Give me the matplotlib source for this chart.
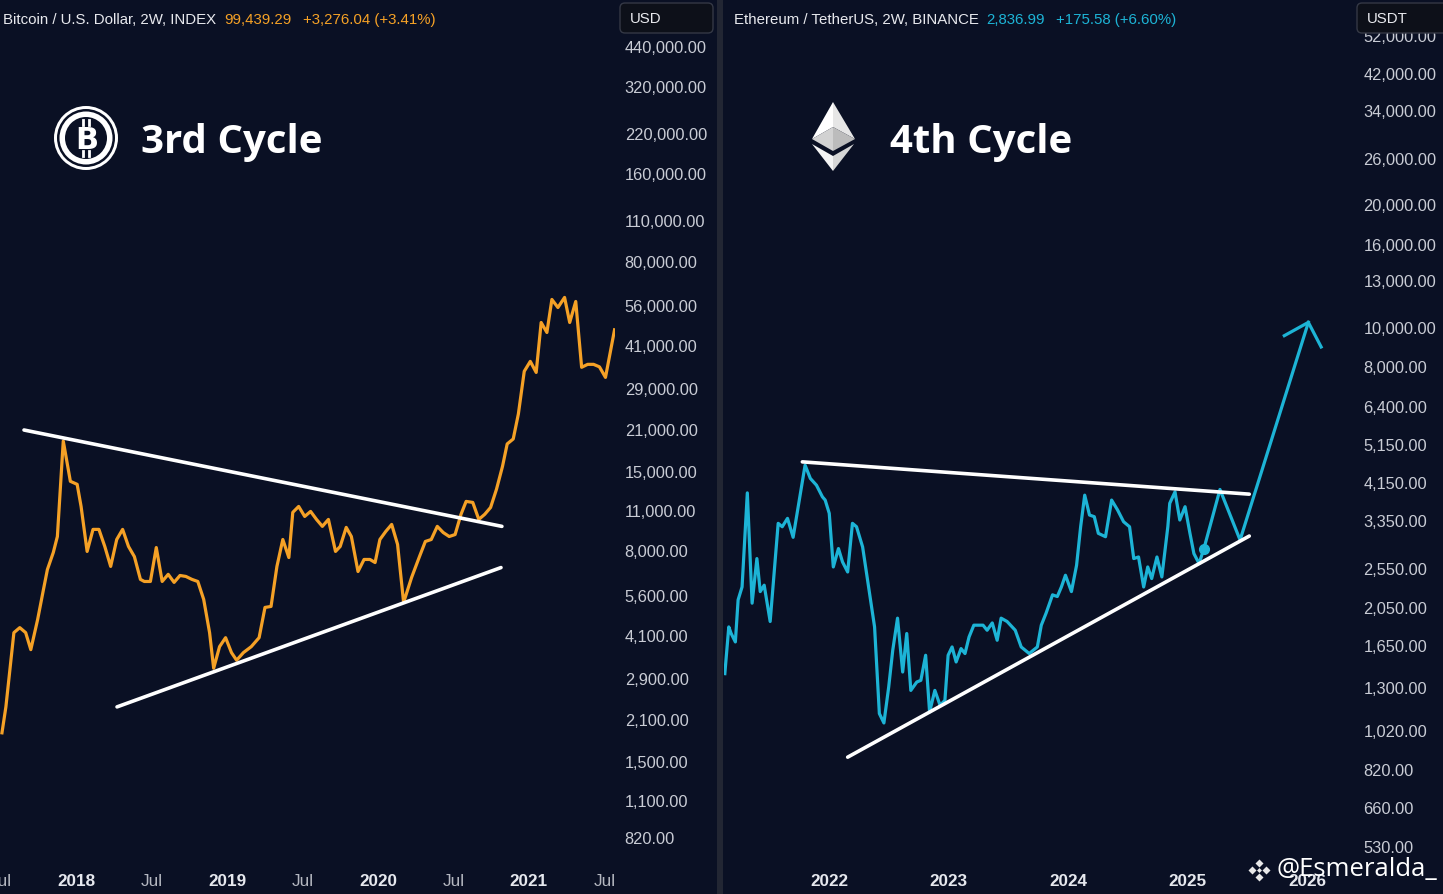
import numpy as np
import matplotlib.pyplot as plt
from matplotlib.patches import Circle, FancyBboxPatch, Polygon, Rectangle

BG = '#0a1024'
BTC_COLOR = '#f5a126'
ETH_COLOR = '#1db4d6'
TICK_COLOR = '#c9ccd5'

# ---- Bitcoin, 2W closes (decimal year, USD) ----
btc_t = [2017.510, 2017.536, 2017.589, 2017.628, 2017.667, 2017.701, 2017.746, 2017.785,
         2017.811, 2017.850, 2017.877, 2017.916, 2017.963, 2018.008, 2018.034, 2018.074,
         2018.113, 2018.152, 2018.191, 2018.230, 2018.270, 2018.309, 2018.348, 2018.387,
         2018.427, 2018.453, 2018.493, 2018.532, 2018.571, 2018.611, 2018.650, 2018.689,
         2018.728, 2018.768, 2018.807, 2018.846, 2018.885, 2018.912, 2018.951, 2018.991,
         2019.030, 2019.064, 2019.109, 2019.161, 2019.213, 2019.252, 2019.292, 2019.331,
         2019.370, 2019.410, 2019.436, 2019.475, 2019.515, 2019.554, 2019.593, 2019.632,
         2019.672, 2019.719, 2019.750, 2019.790, 2019.824, 2019.868, 2019.908, 2019.947,
         2019.981, 2020.013, 2020.052, 2020.091, 2020.130, 2020.170, 2020.223, 2020.275,
         2020.314, 2020.353, 2020.393, 2020.432, 2020.472, 2020.511, 2020.550, 2020.584,
         2020.628, 2020.668, 2020.707, 2020.746, 2020.785, 2020.825, 2020.856, 2020.896,
         2020.930, 2020.969, 2021.009, 2021.048, 2021.081, 2021.119, 2021.152, 2021.192,
         2021.236, 2021.270, 2021.310, 2021.349, 2021.389, 2021.428, 2021.467, 2021.507,
         2021.567]
btc_p = [1880, 2310, 4166, 4335, 4166, 3640, 4617, 5875,
         6880, 7875, 8940, 19090, 13860, 13530, 11350, 7940,
         9460, 9460, 8260, 7050, 8730, 9460, 8260, 7620,
         6360, 6255, 6255, 8190, 6255, 6620, 6210, 6560,
         6510, 6360, 6255, 5425, 4166, 3140, 3727, 4003,
         3555, 3346, 3555, 3727, 4003, 5090, 5130, 7050,
         8730, 7565, 10830, 11350, 10485, 10910, 10240, 9690,
         10240, 7940, 8260, 9610, 8940, 6770, 7450, 7450,
         7270, 8730, 9310, 9840, 8395, 5295, 6460, 7620,
         8595, 8730, 9690, 9230, 8940, 9080, 10660, 11815,
         11720, 10240, 10660, 11260, 13005, 15610, 18650, 19400,
         23650, 33200, 35930, 32910, 48930, 45200, 58740, 55110,
         59700, 48930, 57820, 34280, 35090, 35090, 34400, 31640,
         46170]
btc_upper = ([2017.656, 2020.821], [20830, 9690])
btc_lower = ([2018.272, 2020.815], [2310, 6985])

# ---- Ethereum, 2W closes (decimal year, USDT) ----
eth_t = [2021.129, 2021.162, 2021.182, 2021.217, 2021.240, 2021.273, 2021.317, 2021.357,
         2021.397, 2021.425, 2021.458, 2021.508, 2021.575, 2021.609, 2021.653, 2021.700,
         2021.800, 2021.844, 2021.895, 2021.945, 2021.968, 2022.002, 2022.036, 2022.079,
         2022.113, 2022.156, 2022.196, 2022.230, 2022.281, 2022.331, 2022.381, 2022.421,
         2022.459, 2022.499, 2022.533, 2022.573, 2022.616, 2022.650, 2022.684, 2022.734,
         2022.768, 2022.808, 2022.841, 2022.885, 2022.929, 2022.969, 2022.996, 2023.029,
         2023.063, 2023.104, 2023.137, 2023.171, 2023.211, 2023.254, 2023.288, 2023.322,
         2023.365, 2023.406, 2023.439, 2023.489, 2023.557, 2023.607, 2023.674, 2023.742,
         2023.775, 2023.815, 2023.869, 2023.909, 2023.943, 2023.977, 2024.027, 2024.070,
         2024.104, 2024.138, 2024.178, 2024.218, 2024.252, 2024.312, 2024.363, 2024.413,
         2024.463, 2024.513, 2024.548, 2024.588, 2024.631, 2024.665, 2024.698, 2024.742,
         2024.783, 2024.833, 2024.849, 2024.893, 2024.933, 2024.977, 2025.018, 2025.051,
         2025.094, 2025.135]
eth_p = [1405, 1830, 1763, 1681, 2133, 2294, 3906, 2093,
         2694, 2235, 2317, 1887, 3288, 3225, 3382, 3038,
         4569, 4238, 4080, 3819, 3750, 3479, 2569, 2851,
         2643, 2497, 3288, 3225, 2877, 2294, 1830, 1121,
         1063, 1302, 1604, 1923, 1418, 1763, 1278, 1340,
         1353, 1559, 1131, 1278, 1174, 1208, 1559, 1634,
         1501, 1619, 1574, 1729, 1848, 1848, 1848, 1796,
         1872, 1697, 1923, 1887, 1796, 1634, 1574, 1634,
         1848, 1978, 2194, 2173, 2294, 2451, 2235, 2594,
         3225, 3856, 3446, 3414, 3107, 3048, 3750, 3545,
         3318, 3225, 2694, 2718, 2294, 2569, 2406, 2718,
         2428, 3225, 3682, 3929, 3350, 3612, 3107, 2771,
         2619, 2851]
eth_proj_t = [2025.135, 2025.269, 2025.437, 2026.008]
eth_proj_p = [2851, 3982, 2992, 10246]
eth_arrow_t = [2025.807, 2026.008, 2026.115]
eth_arrow_p = [9504, 10246, 8916]
eth_upper = ([2021.777, 2025.514], [4655, 3878])
eth_lower = ([2022.156, 2025.514], [876, 3060])

btc_ticks = [440000, 320000, 220000, 160000, 110000, 80000, 56000, 41000, 29000, 21000,
             15000, 11000, 8000, 5600, 4100, 2900, 2100, 1500, 1100, 820]
eth_ticks = [52000, 42000, 34000, 26000, 20000, 16000, 13000, 10000, 8000, 6400, 5150,
             4150, 3350, 2550, 2050, 1650, 1300, 1020, 820, 660, 530]
btc_xticks = [2017.5, 2018, 2018.5, 2019, 2019.5, 2020, 2020.5, 2021, 2021.5]
btc_xlabels = ['Jul', '2018', 'Jul', '2019', 'Jul', '2020', 'Jul', '2021', 'Jul']
eth_xticks = [2022, 2023, 2024, 2025, 2026]
eth_xlabels = ['2022', '2023', '2024', '2025', '2026']

W, H = 1443, 895
fig = plt.figure(figsize=(W / 100, H / 100), dpi=100, facecolor=BG)


def px_axes(x0, x1, y0, y1):
    return fig.add_axes([x0 / W, 1 - y1 / H, (x1 - x0) / W, (y1 - y0) / H])


def style(ax, yticks, xticks, xlabels, pad):
    ax.set_facecolor(BG)
    ax.set_yscale('log')
    for s in ax.spines.values():
        s.set_visible(False)
    ax.yaxis.tick_right()
    ax.set_yticks(yticks)
    ax.set_yticklabels(['{:,.2f}'.format(v) for v in yticks])
    ax.yaxis.set_minor_locator(plt.NullLocator())
    ax.tick_params(axis='y', length=0, pad=pad, labelsize=11.8, labelcolor=TICK_COLOR)
    ax.set_xticks(xticks)
    ax.set_xticklabels(xlabels)
    ax.tick_params(axis='x', length=0, pad=6, labelsize=12.3)
    for lab in ax.get_xticklabels():
        if lab.get_text() == 'Jul':
            lab.set_color('#b4b7c0')
        else:
            lab.set_color('#e6e8ee')
            lab.set_fontweight('bold')
    for lab in ax.get_yticklabels() + ax.get_xticklabels():
        lab.set_family('Liberation Sans')


ax1 = px_axes(0, 615, 0, 866)
style(ax1, btc_ticks, btc_xticks, btc_xlabels, 7)
ax1.set_xlim(2017.497, 2021.570)
ax1.set_ylim(658, 638900)
ax1.plot(btc_t, btc_p, color=BTC_COLOR, lw=2.3, solid_joinstyle='round')
for tt, pp in (btc_upper, btc_lower):
    ax1.plot(tt, pp, color='white', lw=2.6, solid_capstyle='round')

ax2 = px_axes(724, 1355, 0, 866)
style(ax2, eth_ticks, eth_xticks, eth_xlabels, 6)
ax2.set_xlim(2021.122, 2026.398)
ax2.set_ylim(476, 63820)
ax2.plot(eth_t, eth_p, color=ETH_COLOR, lw=2.3, solid_joinstyle='round')
ax2.plot(eth_proj_t, eth_proj_p, color=ETH_COLOR, lw=2.3, solid_joinstyle='round')
ax2.plot(eth_arrow_t, eth_arrow_p, color=ETH_COLOR, lw=2.3, solid_joinstyle='miter')
ax2.plot(eth_t[-1], eth_p[-1], 'o', color=ETH_COLOR, ms=7)
for tt, pp in (eth_upper, eth_lower):
    ax2.plot(tt, pp, color='white', lw=2.6, solid_capstyle='round')

# overlay in pixel coordinates for headers, logos, boxes
ov = fig.add_axes([0, 0, 1, 1], zorder=5)
ov.set_xlim(0, W)
ov.set_ylim(H, 0)
ov.axis('off')
ov.patch.set_visible(False)

ov.add_patch(Rectangle((717, 0), 6, H, color='#222633', lw=0))

hdr = dict(fontsize=10.8, family='Liberation Sans', va='center')
ov.text(3, 20, 'Bitcoin / U.S. Dollar, 2W, INDEX', color='#e8e9ee', **hdr)
ov.text(224, 20, '99,439.29', color=BTC_COLOR, **hdr)
ov.text(303, 20, '+3,276.04 (+3.41%)', color=BTC_COLOR, **hdr)
ov.text(734, 20, 'Ethereum / TetherUS, 2W, BINANCE', color='#e8e9ee', **hdr)
ov.text(986, 20, '2,836.99', color=ETH_COLOR, **hdr)
ov.text(1056, 20, '+175.58 (+6.60%)', color=ETH_COLOR, **hdr)

for x0, w, lbl in ((620, 93, 'USD'), (1357, 100, 'USDT')):
    ov.add_patch(FancyBboxPatch((x0, 4), w, 30, boxstyle='round,pad=0,rounding_size=5',
                                fc='#0d1019', ec='#343845', lw=1))
    ov.text(x0 + 10, 19, lbl, color='#e8e9ee', **hdr)

# titles
ttl = dict(fontsize=29, family='Open Sans', fontweight='bold', color='white', va='center')
ov.text(141, 142, '3rd Cycle', **ttl)
ov.text(890, 142, '4th Cycle', **ttl)

# bitcoin logo
cx, cy = 86, 139
for r, c in ((32, 'white'), (29, BG), (26.5, 'white'), (21, BG)):
    ov.add_patch(Circle((cx, cy), r, color=c, lw=0))
ov.text(cx + 1, cy + 1, 'B', color='white', fontsize=22, fontweight='bold',
        family='DejaVu Sans', ha='center', va='center')
for dx in (-3, 3):
    ov.plot([cx + dx, cx + dx], [cy - 18, cy - 13], color='white', lw=2)
    ov.plot([cx + dx, cx + dx], [cy + 13, cy + 18], color='white', lw=2)

# ethereum logo
top, left, right, mid = (833, 103), (812, 140), (855, 140), (833, 128)
bot = (833, 152)
ov.add_patch(Polygon([top, left, mid], color='#ffffff', lw=0))
ov.add_patch(Polygon([top, right, mid], color='#e6e6e6', lw=0))
ov.add_patch(Polygon([left, mid, bot], color='#d2d2d2', lw=0))
ov.add_patch(Polygon([right, mid, bot], color='#bcbcbc', lw=0))
ov.add_patch(Polygon([(812, 145), (833, 157), (833, 172)], color='#f4f4f4', lw=0))
ov.add_patch(Polygon([(854, 145), (833, 157), (833, 172)], color='#d6d6d6', lw=0))

# watermark
for dx, dy in ((0, -7), (-7, 0), (7, 0), (0, 7)):
    ov.plot(1259 + dx, 871 + dy, 'D', color='#e8e8e8', ms=4, mec='none')
ov.plot(1259, 871, 'D', color='#e8e8e8', ms=2.5, mec='none')
ov.text(1276, 870, '@Esmeralda_', color='white', fontsize=18.5, family='Open Sans', va='center')

fig.savefig('out.png', dpi=100, facecolor=BG)
